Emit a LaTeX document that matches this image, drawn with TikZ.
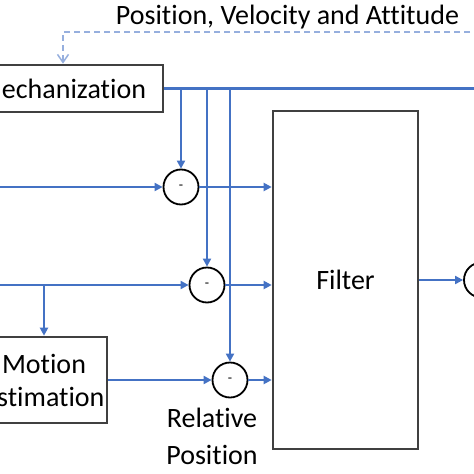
\documentclass[tikz,border=0pt]{standalone}
\usepackage{fontspec}
\setmainfont{Carlito}[Ligatures=NoCommon]
\usetikzlibrary{arrows.meta}
\definecolor{lineblue}{RGB}{68,114,196}
\definecolor{dashblue}{RGB}{150,175,222}
\definecolor{boxgray}{RGB}{64,64,64}
\begin{document}
\begin{tikzpicture}[x=1pt,y=-1pt,
  box/.style={draw=boxgray,line width=2.6pt,rectangle,inner sep=0pt,fill=white,
    font=\fontsize{28}{33}\selectfont,align=center},
  sumnode/.style={draw=black,circle,line width=1.8pt,minimum size=35pt,inner sep=0pt,fill=white,
    font=\fontsize{14}{14}\selectfont},
  flow/.style={draw=lineblue,line width=2.2pt,-{Triangle[length=8pt,width=8pt]}},
  plain/.style={draw=lineblue,line width=2.2pt},
  fb/.style={draw=dashblue,line width=1.5pt,dash pattern=on 6pt off 4pt,-{Straight Barb[length=8pt,width=11pt]}},
  lab/.style={font=\fontsize{28}{33}\selectfont}]
\useasboundingbox (0,0) rectangle (474,474);
\clip (0,0) rectangle (474,474);

% title and feedback
\node[lab,anchor=base] (title) at (287.5,24) {Position, Velocity and Attitude};

% blocks
\node[box,minimum width=202pt,minimum height=47pt] (mech) at (62,88.5) {Mechanization};
\node[box,minimum width=126pt,minimum height=86pt] (motion) at (44,380) {Motion\\Estimation};
\node[box,minimum width=145pt,minimum height=338pt] (filter) at (345.5,280) {Filter};

% summing junctions
\node[sumnode] (s1) at (181,187) {-};
\node[sumnode] (s2) at (207,285) {-};
\node[sumnode] (s3) at (230,380) {-};
\node[sumnode] (s4) at (481.5,280) {};

\node[lab,align=center] (relpos) at (212,436.5) {Relative\\[4pt]Position};

% coordinates
\coordinate (dtop) at (480,32);
\coordinate (dcorner) at (63,32);
\coordinate (outR) at (480,88.5);
\coordinate (in1) at (-5,187);
\coordinate (in2) at (-5,285);
\coordinate (j1) at (s1 |- mech.east);
\coordinate (j2) at (s2 |- mech.east);
\coordinate (j3) at (s3 |- mech.east);
\coordinate (b2) at (motion.north |- s2.west);

% feedback dashed
\draw[fb] (dtop) -- (dcorner) -- (dcorner |- mech.north);

% mechanization output
\draw[plain] (mech.east) -- (outR);
\draw[flow] (j1) -- (s1.north);
\draw[flow] (j2) -- (s2.north);
\draw[flow] (j3) -- (s3.north);

% inputs
\draw[flow] (in1) -- (s1.west);
\draw[flow] (in2) -- (s2.west);
\draw[flow] (b2) -- (motion.north);
\draw[flow] (motion.east) -- (s3.west);

% to filter
\draw[flow] (s1.east) -- (filter.west |- s1.east);
\draw[flow] (s2.east) -- (filter.west |- s2.east);
\draw[flow] (s3.east) -- (filter.west |- s3.east);
\draw[flow] (filter.east) -- (s4.west);
\end{tikzpicture}
\end{document}
